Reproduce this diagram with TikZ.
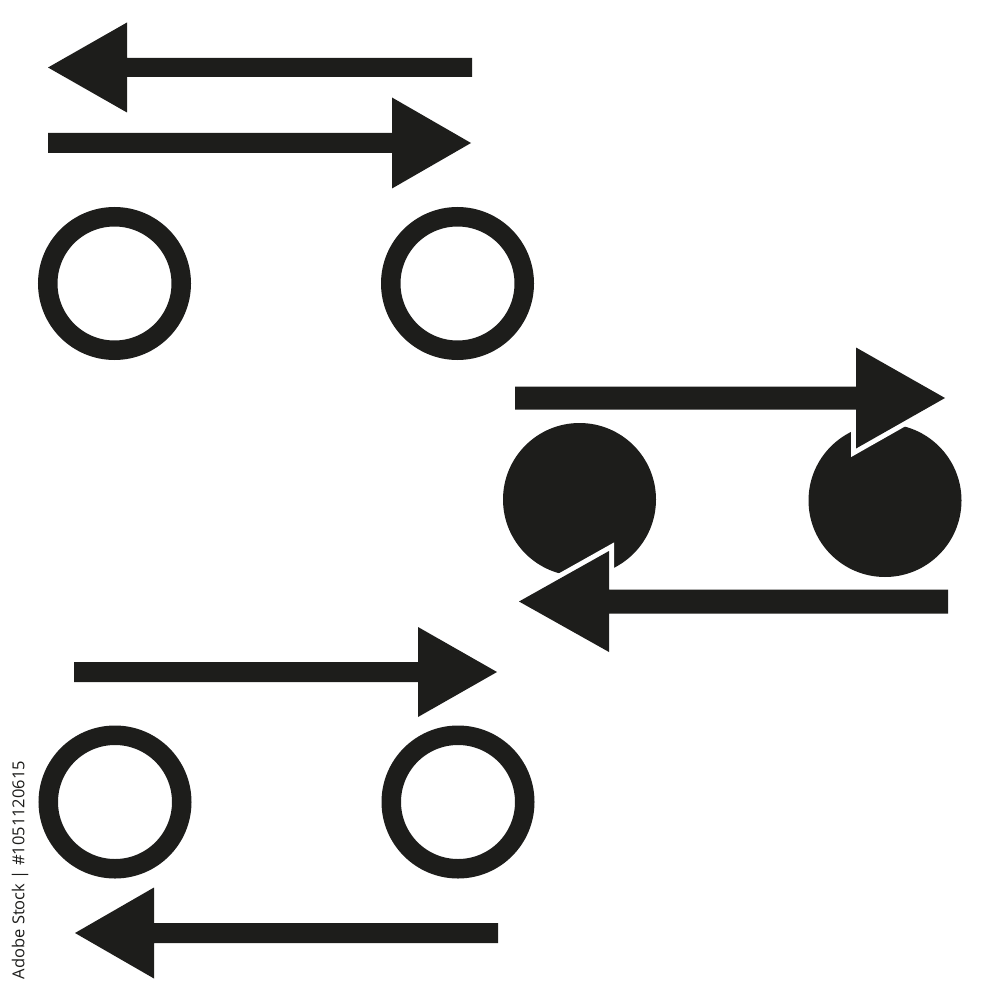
\documentclass[tikz,border=0pt]{standalone}
\usepackage{fontspec}
\setmainfont{Open Sans}
\definecolor{ink}{RGB}{29,29,27}
\newcommand\arrowpath[6]{(#1,#4-#5) -- (#2,#4-#5) -- (#2,#4-#6) -- (#3,#4) -- (#2,#4+#6) -- (#2,#4+#5) -- (#1,#4+#5) -- cycle}
\tikzset{
  ring/.style={circle, draw=ink, line width=19.5pt, minimum size=133.5pt, inner sep=0pt},
  disc/.style={circle, fill=ink, minimum size=153pt, inner sep=0pt},
  arrowfill/.style={fill=ink},
  halo/.style={draw=white, line width=10pt, fill=ink},
}
\begin{document}
\begin{tikzpicture}[x=1pt,y=-1pt]
\useasboundingbox (0,0) rectangle (1000,1000);
% top group
\node[ring] (t1) at (114.5,283.5) {};
\node[ring] (t2) at (457.5,283.5) {};
\fill[arrowfill] \arrowpath{472}{127}{48}{67.5}{9.5}{45};
\fill[arrowfill] \arrowpath{48}{392}{471}{143}{10}{45.5};
% middle group
\node[disc] (m1) at (579.5,499.5) {};
\node[disc] (m2) at (885,500.5) {};
\filldraw[halo] \arrowpath{515}{856}{945}{398}{11.5}{50.5};
\fill[arrowfill] \arrowpath{515}{856}{945}{398}{11.5}{50.5};
\filldraw[halo] \arrowpath{948}{609}{519}{601.5}{12}{50.5};
\fill[arrowfill] \arrowpath{948}{609}{519}{601.5}{12}{50.5};
% bottom group
\node[ring] (b1) at (115,802) {};
\node[ring] (b2) at (458,802) {};
\fill[arrowfill] \arrowpath{74}{418}{497}{672}{10}{45};
\fill[arrowfill] \arrowpath{498}{154}{75}{933}{10}{45.5};
% side text
\node[rotate=90, text=ink, font=\fontsize{16.5}{20}\selectfont, inner sep=0pt] (credit) at (20,870) {Adobe Stock | \#1051120615};
\end{tikzpicture}
\end{document}
